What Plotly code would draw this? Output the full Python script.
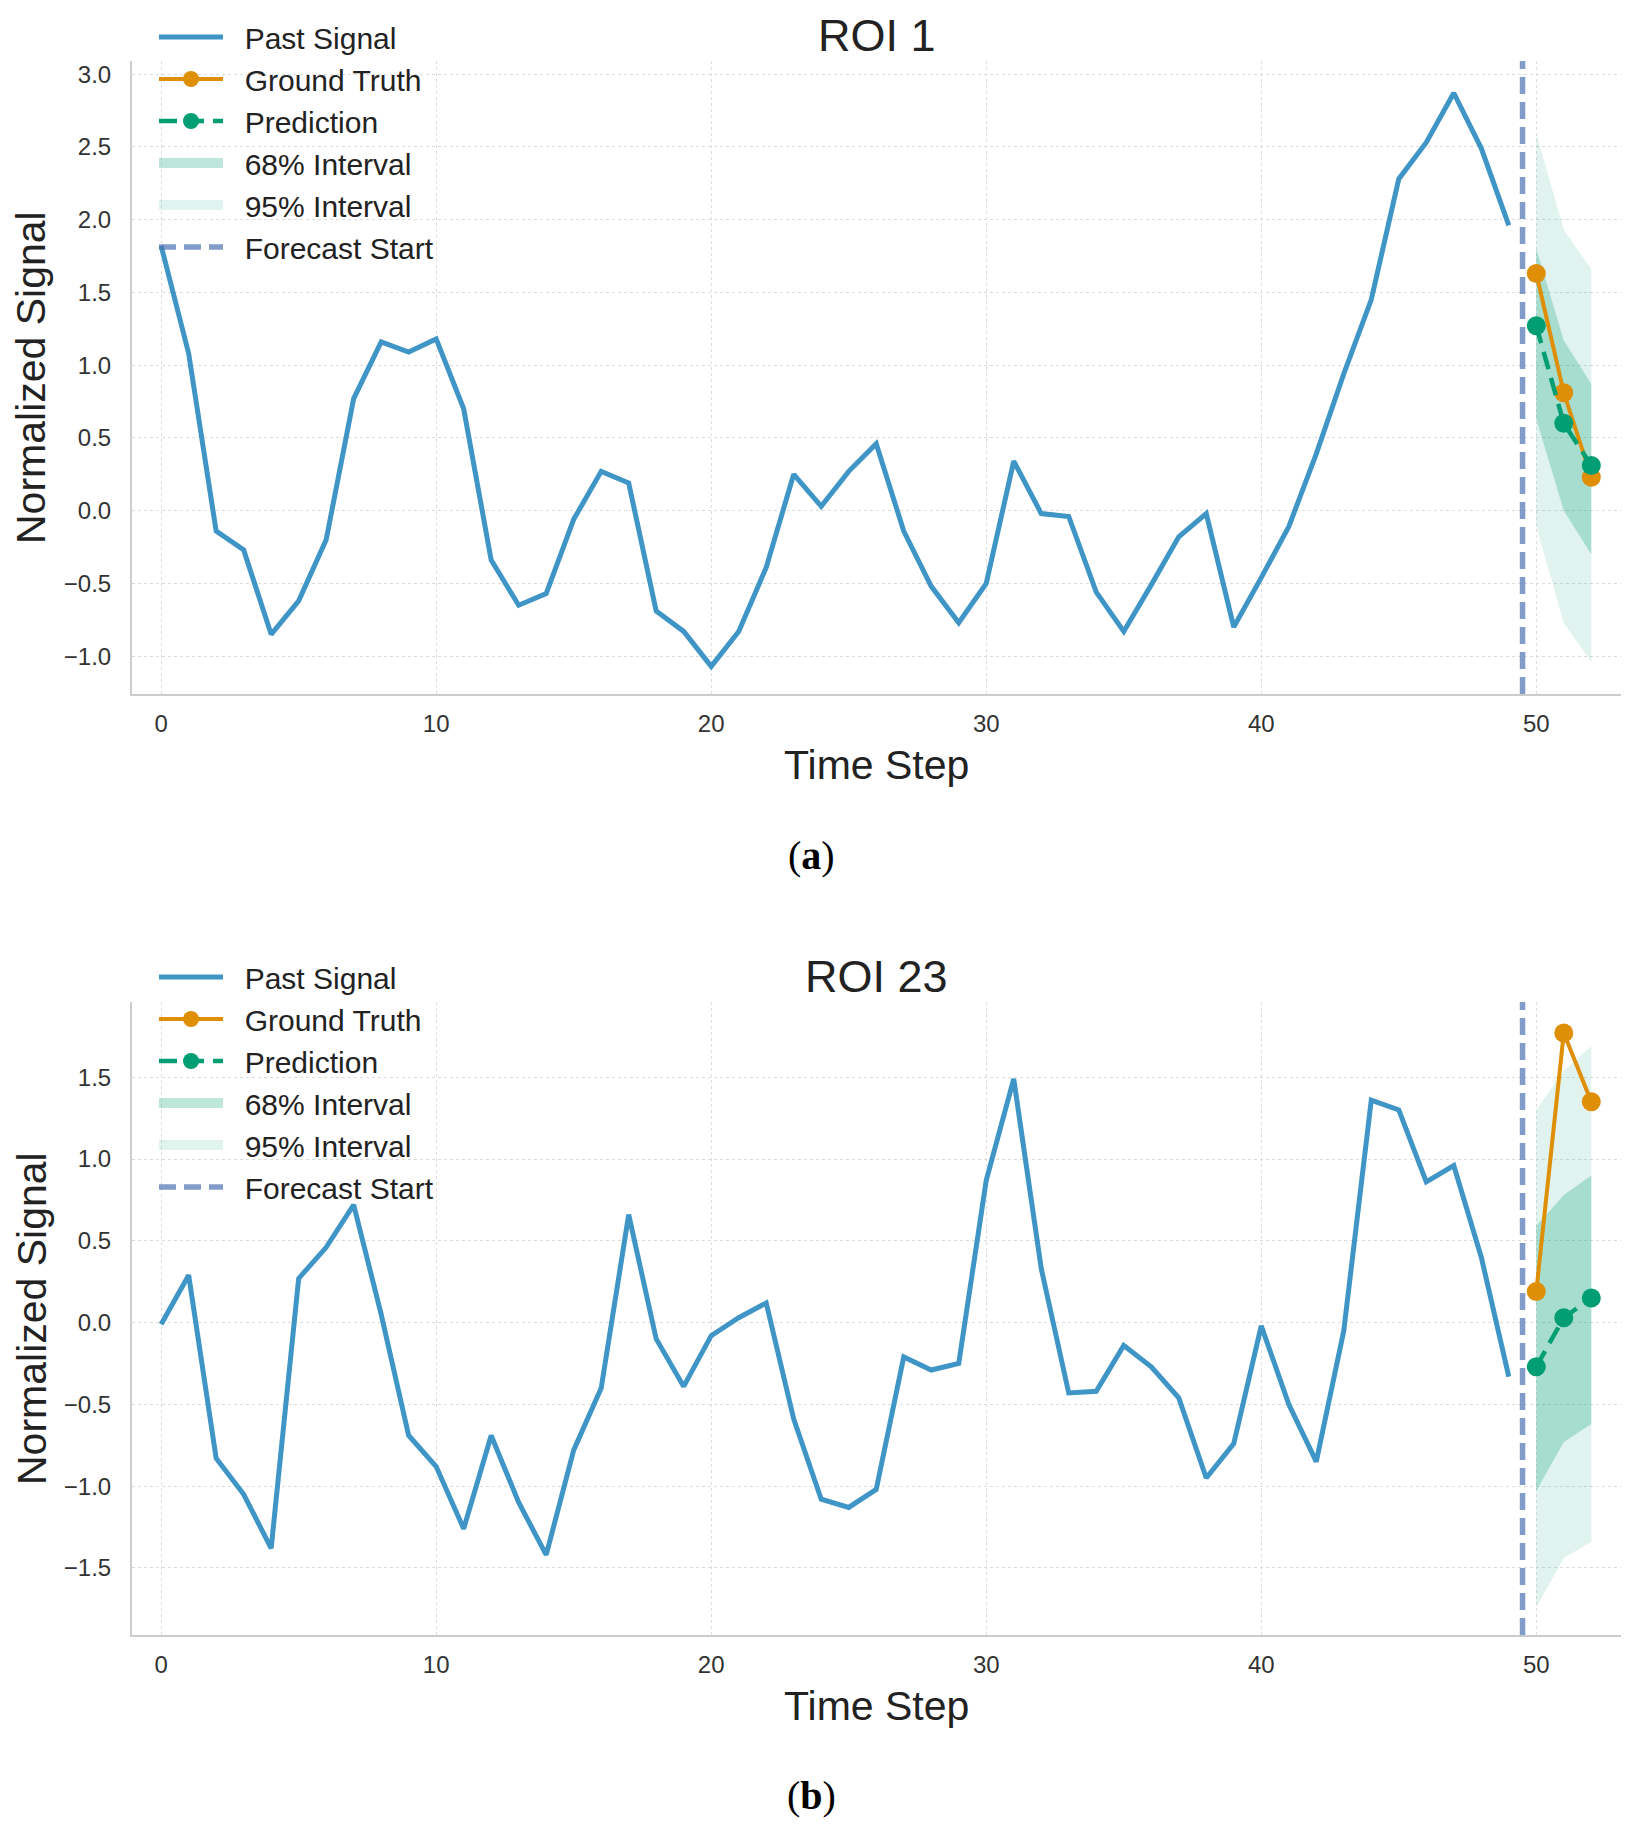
import plotly.graph_objects as go

# ---------------- data ----------------
time_past = list(range(50))
time_forecast = [50, 51, 52]
forecast_start = 49.5
x_ticks = [0, 10, 20, 30, 40, 50]

roi1_past = [1.82, 1.08, -0.14, -0.27, -0.85, -0.62, -0.20, 0.77, 1.16, 1.09,
             1.18, 0.70, -0.34, -0.65, -0.57, -0.06, 0.27, 0.19, -0.69, -0.83,
             -1.07, -0.83, -0.39, 0.25, 0.03, 0.27, 0.46, -0.14, -0.52, -0.77,
             -0.50, 0.34, -0.02, -0.04, -0.56, -0.83, -0.51, -0.18, -0.02, -0.80,
             -0.46, -0.11, 0.39, 0.94, 1.45, 2.28, 2.53, 2.87, 2.49, 1.96]
roi1_truth = [1.63, 0.81, 0.23]
roi1_pred = [1.27, 0.60, 0.31]
roi1_lo68 = [0.63, 0.00, -0.30]
roi1_hi68 = [1.80, 1.17, 0.87]
roi1_lo95 = [-0.11, -0.77, -1.04]
roi1_hi95 = [2.59, 1.93, 1.66]

roi23_past = [-0.01, 0.29, -0.83, -1.05, -1.38, 0.27, 0.46, 0.72, 0.05, -0.69,
              -0.88, -1.26, -0.69, -1.10, -1.42, -0.78, -0.40, 0.66, -0.10, -0.39,
              -0.08, 0.03, 0.12, -0.59, -1.08, -1.13, -1.02, -0.21, -0.29, -0.25,
              0.87, 1.49, 0.33, -0.43, -0.42, -0.14, -0.27, -0.46, -0.95, -0.74,
              -0.02, -0.50, -0.85, -0.05, 1.36, 1.30, 0.86, 0.96, 0.40, -0.33]
roi23_truth = [0.19, 1.77, 1.35]
roi23_pred = [-0.27, 0.03, 0.15]
roi23_lo68 = [-1.03, -0.73, -0.62]
roi23_hi68 = [0.59, 0.78, 0.90]
roi23_lo95 = [-1.74, -1.44, -1.34]
roi23_hi95 = [1.30, 1.54, 1.69]

panels = [
    dict(title="ROI 1", caption="(<b>a</b>)", past=roi1_past, truth=roi1_truth,
         pred=roi1_pred, lo68=roi1_lo68, hi68=roi1_hi68, lo95=roi1_lo95, hi95=roi1_hi95,
         yrange=[-1.26, 3.09], yticks=[-1.0, -0.5, 0.0, 0.5, 1.0, 1.5, 2.0, 2.5, 3.0]),
    dict(title="ROI 23", caption="(<b>b</b>)", past=roi23_past, truth=roi23_truth,
         pred=roi23_pred, lo68=roi23_lo68, hi68=roi23_hi68, lo95=roi23_lo95, hi95=roi23_hi95,
         yrange=[-1.91, 1.96], yticks=[-1.5, -1.0, -0.5, 0.0, 0.5, 1.0, 1.5]),
]

# ---------------- style / layout ----------------
W, H = 1637, 1831
C_PAST = "#3f95c6"
C_TRUTH = "#de8f05"
C_PRED = "#029e73"
C_68 = "rgba(2,158,115,0.26)"
C_95 = "rgba(2,158,115,0.12)"
C_VLINE = "rgba(76,114,176,0.7)"
FONT = "Liberation Sans, Arial, sans-serif"
PAD = "\u00a0\u00a0"

# plot-area boxes in pixels (left, right, top, bottom)
boxes = [(132, 1621, 61, 694), (132, 1621, 1002, 1635)]
legend_tops = [11, 951]
caption_y = [855, 1795]

fig = go.Figure()
annotations = []
shapes = []
layout_axes = {}

for i, (p, box) in enumerate(zip(panels, boxes)):
    n = i + 1
    xa = "x" if n == 1 else f"x{n}"
    ya = "y" if n == 1 else f"y{n}"
    leg = "legend" if n == 1 else f"legend{n}"
    l, r, t, b = box

    # intervals
    fig.add_trace(go.Scatter(
        x=time_forecast + time_forecast[::-1], y=p["hi95"] + p["lo95"][::-1],
        fill="toself", fillcolor=C_95, line=dict(width=0), mode="lines",
        showlegend=False, xaxis=xa, yaxis=ya, hoverinfo="skip"))
    fig.add_trace(go.Scatter(
        x=time_forecast + time_forecast[::-1], y=p["hi68"] + p["lo68"][::-1],
        fill="toself", fillcolor=C_68, line=dict(width=0), mode="lines",
        showlegend=False, xaxis=xa, yaxis=ya, hoverinfo="skip"))
    # legend keys for intervals (no data of their own)
    fig.add_trace(go.Scatter(
        x=[None], y=[None], mode="lines", line=dict(color=C_68, width=22),
        name=PAD + "68% Interval", legend=leg, legendrank=4, xaxis=xa, yaxis=ya))
    fig.add_trace(go.Scatter(
        x=[None], y=[None], mode="lines", line=dict(color=C_95, width=22),
        name=PAD + "95% Interval", legend=leg, legendrank=5, xaxis=xa, yaxis=ya))
    # past signal
    fig.add_trace(go.Scatter(
        x=time_past, y=p["past"], mode="lines", line=dict(color=C_PAST, width=5),
        name=PAD + "Past Signal", legend=leg, legendrank=1, xaxis=xa, yaxis=ya))
    # ground truth
    fig.add_trace(go.Scatter(
        x=time_forecast, y=p["truth"], mode="lines+markers",
        line=dict(color=C_TRUTH, width=4), marker=dict(size=19, color=C_TRUTH),
        name=PAD + "Ground Truth", legend=leg, legendrank=2, xaxis=xa, yaxis=ya))
    # prediction
    fig.add_trace(go.Scatter(
        x=time_forecast, y=p["pred"], mode="lines+markers",
        line=dict(color=C_PRED, width=4.5, dash="18px,9px"), marker=dict(size=19, color=C_PRED),
        name=PAD + "Prediction", legend=leg, legendrank=3, xaxis=xa, yaxis=ya))

    # forecast start line (shape with legend entry)
    shapes.append(dict(
        type="line", xref=xa, yref=f"{ya} domain", x0=forecast_start, x1=forecast_start,
        y0=0, y1=1, line=dict(color=C_VLINE, width=5.5, dash="17px,8px"),
        showlegend=True, name=PAD + "Forecast Start", legend=leg, legendrank=6))

    xdom = [l / W, r / W]
    ydom = [1 - b / H, 1 - t / H]
    axis_common = dict(
        showline=True, linecolor="#cccccc", linewidth=2, mirror=False,
        showgrid=True, gridcolor="#dcdcdc", gridwidth=1, griddash="dot",
        zeroline=False, ticks="", tickfont=dict(family=FONT, size=24, color="#333333"),
    )
    layout_axes[f"xaxis{'' if n == 1 else n}"] = dict(
        axis_common, domain=xdom, range=[-1.06, 53.08], tickvals=x_ticks,
        anchor=ya, ticklabelstandoff=7)
    layout_axes[f"yaxis{'' if n == 1 else n}"] = dict(
        axis_common, domain=ydom, range=p["yrange"], tickvals=p["yticks"],
        tickformat=".1f", anchor=xa, ticklabelstandoff=14)

    layout_axes[leg] = dict(
        x=154 / W, y=1 - legend_tops[i] / H, xanchor="left", yanchor="top",
        bgcolor="rgba(0,0,0,0)", font=dict(family=FONT, size=30, color="#222222"),
        itemwidth=64, traceorder="normal")

    cx = (l + r) / 2 / W
    annotations += [
        dict(text=p["title"], x=cx, y=1 - (t - 26) / H, xref="paper", yref="paper",
             xanchor="center", yanchor="middle", showarrow=False,
             font=dict(family=FONT, size=45, color="#222222")),
        dict(text="Time Step", x=cx, y=1 - (b + 71) / H, xref="paper", yref="paper",
             xanchor="center", yanchor="middle", showarrow=False,
             font=dict(family=FONT, size=41, color="#222222")),
        dict(text="Normalized Signal", x=31.5 / W, y=1 - ((t + b) / 2) / H, xref="paper",
             yref="paper", xanchor="center", yanchor="middle", showarrow=False, textangle=-90,
             font=dict(family=FONT, size=41, color="#222222")),
        dict(text=p["caption"], x=811 / W, y=1 - caption_y[i] / H, xref="paper", yref="paper",
             xanchor="center", yanchor="middle", showarrow=False,
             font=dict(family="Liberation Serif, DejaVu Serif, serif", size=40, color="#000000")),
    ]

fig.update_layout(
    width=W, height=H, margin=dict(l=0, r=0, t=0, b=0),
    plot_bgcolor="white", paper_bgcolor="white",
    annotations=annotations, shapes=shapes, hovermode=False,
    **layout_axes,
)

fig.write_html("out.html")
